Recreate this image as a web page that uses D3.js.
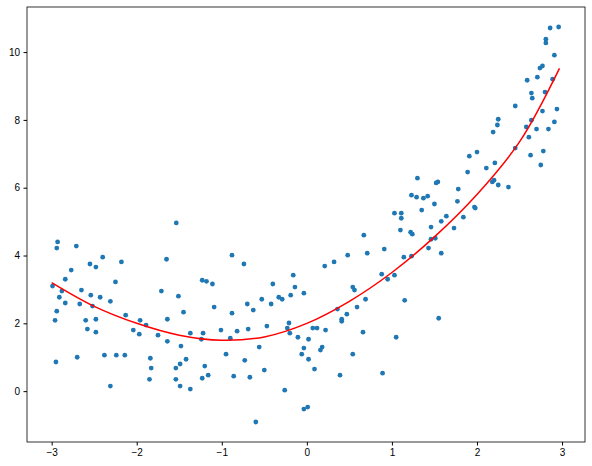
<!DOCTYPE html>
<html>
<head>
<meta charset="utf-8">
<script src="https://cdn.jsdelivr.net/npm/d3@7"></script>
<style>
  body { margin: 0; background: #fff; }
  svg { font-family: "DejaVu Sans", sans-serif; }
</style>
</head>
<body>
<div id="chart"></div>
<script>
const width = 592, height = 466,
    margin = ({ top: 7, right: 7, bottom: 24, left: 27 });

// scatter points
const xs = [-1.535,-2.93,-2.94,-2.71,-2.40,-2.55,-2.48,-2.18,-1.65,-2.77,-2.84,-2.25,-2.99,-2.65,-2.88,-1.71,-2.54,-2.91,-2.43,-1.51,
  -2.31,-2.84,-2.67,-2.52,-2.94,-2.13,-2.96,-2.60,-2.48,-1.96,-1.64,-1.89,-2.58,-2.04,-2.48,-1.97,-1.75,-1.64,-2.95,-2.70,
  -2.38,-2.24,-2.14,-1.84,-1.83,-1.85,-2.31,-0.88,-0.74,-1.23,-1.18,-1.11,-0.16,-0.40,-0.14,-0.035,-1.09,-0.53,-0.33,-0.29,
  -0.19,-1.45,-0.70,-0.42,-0.63,-0.88,-1.37,-1.22,-1.24,-1.01,-0.90,-0.82,-0.69,-0.47,-0.21,-0.23,-0.20,-0.105,0.02,-1.48,
  -0.56,-0.035,-0.06,0.02,-0.95,-1.42,-1.49,-1.54,-1.20,-0.73,-0.50,-1.54,-1.23,-1.16,-0.86,-0.67,-1.49,-1.37,-0.26,-0.035,
  0.01,-0.60,1.30,1.23,1.29,1.37,1.42,1.54,1.52,1.03,1.11,1.11,1.35,1.50,0.67,1.10,1.22,1.24,1.46,1.46,
  1.51,1.43,0.91,0.71,0.48,0.32,0.21,1.14,1.23,0.88,0.95,1.03,0.54,0.56,0.69,1.15,0.59,0.36,0.47,0.41,
  0.41,0.07,0.12,0.22,0.66,1.05,1.55,0.18,0.16,0.54,0.09,0.39,0.89,2.86,2.96,2.81,2.81,2.91,2.74,2.77,
  2.71,2.59,2.89,2.80,2.64,2.65,2.45,2.77,2.94,2.64,2.58,2.70,2.84,2.91,2.61,2.25,2.24,2.19,2.45,2.63,
  2.78,2.75,1.91,2.00,2.11,2.21,1.89,2.18,2.20,2.25,2.37,1.78,1.77,1.97,1.98,1.84,1.64,1.58,1.73,1.58];
const ys = [4.96,4.40,4.22,4.28,3.95,3.75,3.66,3.81,3.89,3.57,3.30,3.22,3.10,2.98,2.95,2.95,2.83,2.77,2.77,2.80,
  2.65,2.60,2.57,2.51,2.36,2.24,2.09,2.09,2.12,2.09,2.12,1.95,1.83,1.80,1.74,1.68,1.65,1.47,0.86,1.00,
  1.06,1.06,1.06,0.97,0.68,0.35,0.15,4.01,3.75,3.27,3.24,3.16,3.42,3.16,3.07,2.89,2.48,2.71,2.77,2.71,
  2.83,2.33,2.57,2.57,2.39,2.30,1.71,1.71,1.53,1.80,1.56,1.77,1.83,1.92,2.01,1.86,1.71,1.59,1.53,1.33,
  1.30,1.27,1.09,0.94,1.09,0.94,0.80,0.68,0.74,0.91,0.62,0.35,0.38,0.47,0.44,0.41,0.15,0.06,0.03,-0.53,
  -0.47,-0.91,6.28,5.78,5.72,5.69,5.75,6.17,6.14,5.25,5.25,5.10,5.34,5.52,4.60,4.75,4.69,4.63,4.84,4.48,
  4.51,4.22,4.19,4.07,4.01,3.81,3.69,3.95,3.98,3.45,3.30,3.42,3.07,2.98,2.71,2.68,2.48,2.42,2.27,2.12,
  2.06,1.86,1.86,1.80,1.74,1.59,2.15,1.30,1.21,1.09,0.65,0.47,0.53,10.71,10.74,10.38,10.27,9.91,9.53,9.59,
  9.26,9.17,9.20,8.82,8.79,8.64,8.41,8.26,8.32,7.99,7.79,7.73,7.73,7.94,7.49,8.02,7.85,7.64,7.17,6.96,
  7.08,6.67,6.93,7.05,6.58,6.73,6.46,6.17,6.22,6.08,6.02,5.96,5.60,5.43,5.40,5.13,5.16,5.01,4.81,4.07];

// fitted curve values
const fitX = [-3, -2.5, -2, -1.5, -1, -0.5, 0, 0.5, 1, 1.5, 2, 2.5, 2.97];
const fitY = [3.2, 2.5, 2.0, 1.65, 1.5, 1.6, 2.0, 2.65, 3.5, 4.55, 5.8, 7.35, 9.52];

const xTicks = [-3, -2, -1, 0, 1, 2, 3];
const yTicks = [0, 2, 4, 6, 8, 10];

const data = xs.map((x, i) => ({ x: x, y: ys[i] }));

const svg = d3.select("#chart").append("svg")
    .attr("width", width).attr("height", height);

let x = d3.scaleLinear().domain([-3.29, 3.27]).range([margin.left, width - margin.right]);
let y = d3.scaleLinear().domain([-1.50, 11.33]).range([height - margin.bottom, margin.top]);

svg.append("g")
    .attr("transform", `translate(0,${height - margin.bottom})`)
    .call(d3.axisBottom(x).tickValues(xTicks).tickSize(3.5).tickPadding(3.5).tickFormat(d => d < 0 ? "\u2212" + (-d) : d))
    .call(g => g.selectAll("text").attr("font-size", 10).attr("fill", "#000"));

svg.append("g")
    .attr("transform", `translate(${margin.left},0)`)
    .call(d3.axisLeft(y).tickValues(yTicks).tickSize(3.5).tickPadding(3.5))
    .call(g => g.selectAll("text").attr("font-size", 10).attr("fill", "#000"));

svg.selectAll(".domain").remove();

svg.append("g")
    .selectAll("circle")
    .data(data)
    .join("circle")
    .attr("cx", d => x(d.x))
    .attr("cy", d => y(d.y))
    .attr("r", 2.4)
    .attr("fill", "#1f77b4");

const line = d3.line().x(d => x(d[0])).y(d => y(d[1])).curve(d3.curveCatmullRom);
svg.append("path")
    .datum(fitX.map((v, i) => [v, fitY[i]]))
    .attr("d", line)
    .attr("fill", "none")
    .attr("stroke", "red")
    .attr("stroke-width", 1.5);

// frame
svg.append("rect")
    .attr("x", margin.left).attr("y", margin.top)
    .attr("width", width - margin.left - margin.right)
    .attr("height", height - margin.top - margin.bottom)
    .attr("fill", "none").attr("stroke", "#000").attr("stroke-width", 0.8);
</script>
</body>
</html>
